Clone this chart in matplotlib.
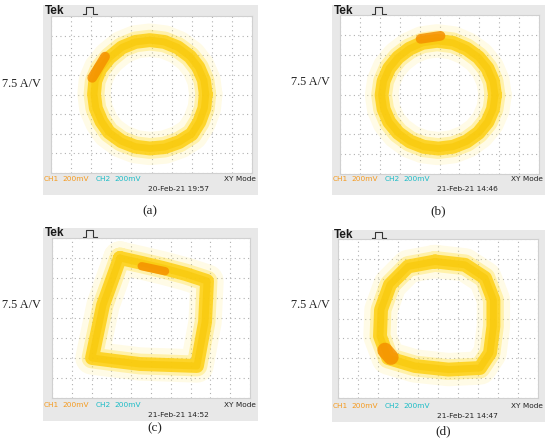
import numpy as np
import matplotlib.pyplot as plt

traceA_x = [2.70, 2.61, 2.33, 1.92, 1.31, 0.64, -0.08, -0.80, -1.47, -2.10, -2.55, -2.80,
            -2.86, -2.77, -2.49, -2.12, -1.50, -0.80, -0.08, 0.66, 1.38, 2.00, 2.38, 2.63]
traceA_y = [0.01, 0.72, 1.39, 1.93, 2.40, 2.68, 2.77, 2.68, 2.40, 1.87, 1.30, 0.68,
            0.01, -0.70, -1.37, -1.92, -2.38, -2.66, -2.75, -2.68, -2.42, -2.02, -1.40, -0.70]

traceB_x = [2.79, 2.69, 2.41, 1.96, 1.37, 0.68, -0.12, -0.85, -1.52, -2.08, -2.53, -2.81,
            -2.91, -2.81, -2.53, -2.08, -1.49, -0.80, -0.06, 0.68, 1.37, 1.96, 2.41, 2.69]
traceB_y = [-0.03, 0.67, 1.32, 1.87, 2.30, 2.60, 2.70, 2.60, 2.30, 1.87, 1.32, 0.67,
            -0.03, -0.73, -1.38, -1.93, -2.36, -2.63, -2.72, -2.63, -2.36, -1.93, -1.38, -0.73]

traceC_x = [-1.57, -0.45, 0.61, 1.75, 2.83, 2.73, 2.32, 0.90, -0.56, -1.80, -2.98, -2.42]
traceC_y = [3.00, 2.75, 2.50, 2.20, 1.85, -0.20, -2.40, -2.35, -2.30, -2.15, -2.00, 0.65]

traceD_x = [-0.15, 1.35, 2.35, 2.77, 2.77, 2.60, 2.10, 0.52, -1.15, -2.49, -2.90, -2.85, -2.40, -1.49]
traceD_y = [2.87, 2.70, 2.04, 0.94, -0.39, -1.73, -2.49, -2.57, -2.39, -1.99, -0.89, 0.44, 1.70, 2.62]

# bright (orange) spots on each trace: start and end point
hotA = [(-2.31, 1.93), (-2.95, 0.85)]
hotB = [(-0.95, 2.80), (0.05, 2.95)]
hotC = [(-0.47, 2.59), (0.71, 2.34)]
hotD = [(-2.65, -1.60), (-2.35, -1.95)]

dates = ['20-Feb-21 19:57', '21-Feb-21 14:46', '21-Feb-21 14:52', '21-Feb-21 14:47']
labels = ['(a)', '(b)', '(c)', '(d)']
scaleText = '7.5 A/V'

W, H = 550, 446
fig = plt.figure(figsize=(5.5, 4.46), dpi=100)
fig.patch.set_facecolor('white')


def rect(x0, y0, x1, y1):
    return [x0 / W, 1 - y1 / H, (x1 - x0) / W, (y1 - y0) / H]


# pixel layout of each panel: frame box, screen box, side label y, caption position
panels = [
    dict(frame=(43, 5, 258, 195), screen=(51, 16, 252, 173), sideY=84, cap=(150, 211),
         tx=traceA_x, ty=traceA_y, hot=hotA, hotW=7),
    dict(frame=(332, 5, 545, 195), screen=(340, 15, 539, 174), sideY=82, cap=(438, 211),
         tx=traceB_x, ty=traceB_y, hot=hotB, hotW=7),
    dict(frame=(43, 228, 258, 421), screen=(52, 238, 250, 398), sideY=305, cap=(155, 428),
         tx=traceC_x, ty=traceC_y, hot=hotC, hotW=6),
    dict(frame=(332, 230, 545, 422), screen=(338, 239, 538, 398), sideY=305, cap=(443, 431),
         tx=traceD_x, ty=traceD_y, hot=hotD, hotW=11),
]

for i, p in enumerate(panels):
    fx0, fy0, fx1, fy1 = p['frame']
    fw, fh = fx1 - fx0, fy1 - fy0

    # grey scope frame with header/footer text
    fax = fig.add_axes(rect(*p['frame']))
    fax.set_xlim(0, fw)
    fax.set_ylim(fh, 0)
    fax.set_facecolor('#e8e8e8')
    for s in fax.spines.values():
        s.set_visible(False)
    fax.set_xticks([])
    fax.set_yticks([])
    fax.text(1.5, 5.5, 'Tek', fontsize=8.5, fontweight='bold', color='#1a1a1a',
             va='center', ha='left', family='Liberation Sans')
    fax.plot([40, 43, 43, 50, 50, 54], [8.5, 8.5, 2, 2, 8.5, 8.5], color='#333333', lw=0.8)
    fax.text(1, fh - 16, 'CH1', fontsize=5.3, color='#f59a1e', va='center', family='DejaVu Sans')
    fax.text(19, fh - 16, '200mV', fontsize=5.3, color='#f59a1e', va='center', family='DejaVu Sans')
    fax.text(53, fh - 16, 'CH2', fontsize=5.3, color='#1bbcc6', va='center', family='DejaVu Sans')
    fax.text(71, fh - 16, '200mV', fontsize=5.3, color='#1bbcc6', va='center', family='DejaVu Sans')
    fax.text(fw - 2, fh - 16, 'XY Mode', fontsize=5.3, color='#222222', va='center', ha='right',
             family='DejaVu Sans')
    fax.text(135, fh - 6, dates[i], fontsize=5.3, color='#222222', va='center', ha='center',
             family='DejaVu Sans')

    # screen with dotted graticule
    ax = fig.add_axes(rect(*p['screen']))
    ax.set_xlim(-5, 5)
    ax.set_ylim(-4, 4)
    ax.set_facecolor('white')
    ax.set_xticks(np.arange(-5, 6))
    ax.set_yticks(np.arange(-4, 5))
    ax.tick_params(length=0, labelbottom=False, labelleft=False)
    ax.grid(True, color='#b0b0b0', lw=0.8, linestyle=(0, (1, 3)))
    ax.set_axisbelow(True)
    for s in ax.spines.values():
        s.set_color('#d0d0d0')
        s.set_linewidth(0.8)

    x = np.append(p['tx'], p['tx'][0])
    y = np.append(p['ty'], p['ty'][0])
    # glow layers then the dense core of the trace
    ax.plot(x, y, color='#ffe866', lw=24, alpha=0.16, solid_joinstyle='round', solid_capstyle='round')
    ax.plot(x, y, color='#ffdf3a', lw=15, alpha=0.35, solid_joinstyle='round', solid_capstyle='round')
    ax.plot(x, y, color='#fdd11b', lw=10, alpha=0.9, solid_joinstyle='round', solid_capstyle='round')
    ax.plot(x, y, color='#f7c602', lw=5, alpha=0.55, solid_joinstyle='round', solid_capstyle='round')

    (hx0, hy0), (hx1, hy1) = p['hot']
    ax.plot([hx0, hx1], [hy0, hy1], color='#f59000', lw=p['hotW'], alpha=0.85, solid_capstyle='round')

    # side label and caption in serif
    fig.text(21.5 / W if fx0 < 100 else 310 / W, 1 - p['sideY'] / H, scaleText, fontsize=8.8,
             family='Liberation Serif', ha='center', va='center', color='#222222')
    fig.text(p['cap'][0] / W, 1 - p['cap'][1] / H, labels[i], fontsize=9.5,
             family='Liberation Serif', ha='center', va='center', color='#222222')

fig.savefig('out.png', dpi=100, facecolor='white')
